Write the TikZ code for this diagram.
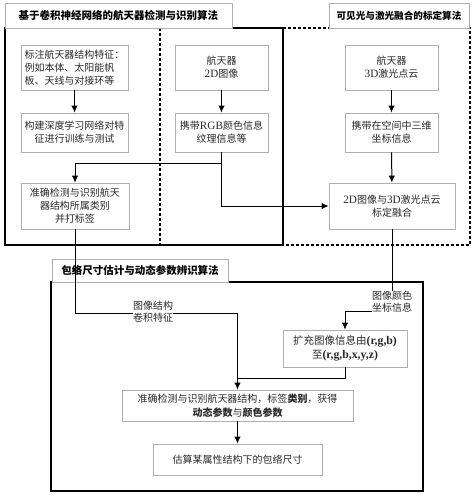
\documentclass[tikz,border=0pt]{standalone}
\usepackage{fontspec}
\setmainfont{Noto Sans CJK SC}
\newfontfamily\lat[Scale=1.12]{Liberation Serif}
\usetikzlibrary{arrows.meta}
\definecolor{boxgray}{RGB}{175,175,175}
\definecolor{txt}{RGB}{40,40,40}
\tikzset{
  box/.style={draw=boxgray, line width=0.8pt, align=center, inner sep=1pt, text=txt,
    font=\fontsize{10}{13}\selectfont},
  ttl/.style={draw=boxgray, line width=0.8pt, fill=white, inner sep=0pt, text=black,
    font=\fontsize{10.5}{13}\selectfont\bfseries},
  frame/.style={line width=1.7pt, draw=black},
  dframe/.style={line width=1.4pt, draw=black, dash pattern=on 3pt off 2pt},
  arr/.style={line width=1pt, -{Latex[length=7pt,width=6.5pt]}},
  ln/.style={line width=1pt},
  lbl/.style={fill=white, align=center, inner sep=0pt, text=txt, font=\fontsize{10}{12}\selectfont},
}
\begin{document}
\begin{tikzpicture}[x=1pt,y=-1pt]
\useasboundingbox (0,0) rectangle (474,496);
% frames
\draw[frame] (5,28) rectangle (283,245);
\draw[dframe] (160,28) -- (160,245);
\draw[dframe] (283,28) -- (470,28) -- (470,245) -- (283,245);
\draw[frame] (51,282) rectangle (423,491);
% titles
\node[ttl, minimum width=227pt, minimum height=25pt] (t1) at (118.5,15.5) {基于卷积神经网络的航天器检测与识别算法};
\node[ttl, minimum width=140pt, minimum height=25pt, font=\fontsize{9.6}{12}\selectfont\bfseries] (t2) at (399,15.5) {可见光与激光融合的标定算法};
\node[ttl, minimum width=176pt, minimum height=23pt] (t3) at (140,270.5) {包络尺寸估计与动态参数辨识算法};
% column 1
\node[box, minimum width=107pt, minimum height=45pt, align=left] (n1) at (74.5,67.5) {标注航天器结构特征：\\例如本体、太阳能帆\\板、天线与对接环等};
\node[box, minimum width=107pt, minimum height=39pt] (n2) at (74.5,132.5) {构建深度学习网络对特\\征进行训练与测试};
\node[box, minimum width=108pt, minimum height=46pt] (n3) at (75,206) {准确检测与识别航天\\器结构所属类别\\并打标签};
% column 2
\node[box, minimum width=93pt, minimum height=45pt] (m1) at (221.5,67.5) {航天器\\{\lat 2D}图像};
\node[box, minimum width=93pt, minimum height=39pt] (m2) at (221.5,132.5) {携带{\lat RGB}颜色信息\\纹理信息等};
% column 3
\node[box, minimum width=93pt, minimum height=45pt] (r1) at (391.5,67.5) {航天器\\{\lat 3D}激光点云};
\node[box, minimum width=93pt, minimum height=39pt] (r2) at (391.5,132.5) {携带在空间中三维\\坐标信息};
\node[box, minimum width=126pt, minimum height=46pt] (r3) at (392,206) {{\lat 2D}图像与{\lat 3D}激光点云\\标定融合};
% bottom
\node[box, minimum width=124pt, minimum height=37pt, font=\fontsize{10.5}{14}\selectfont] (b1) at (345,348.5) {扩充图像信息由{\lat\bfseries (r,g,b)}\\至{\lat\bfseries (r,g,b,x,y,z)}};
\node[box, minimum width=231pt, minimum height=31pt, font=\fontsize{10}{14}\selectfont] (b2) at (237.5,405.5) {准确检测与识别航天器结构，标签\textbf{类别}，获得\\\textbf{动态参数}与\textbf{颜色参数}};
\node[box, minimum width=169pt, minimum height=31pt] (b3) at (237.5,459.5) {估算某属性结构下的包络尺寸};
% connectors
\draw[arr] (n1) -- (n2);
\draw[arr] (m1) -- (m2);
\draw[arr] (r1) -- (r2);
\draw[arr] (r2) -- (r3);
\draw[arr] (m2.south) -- ++(0,11) -| (n3.north);
\draw[arr] (m2.south) |- (r3.west);
\draw[arr] (n3.south) |- (237.5,313) -- (b2.north);
\node[lbl] (l1) at (153,312) {图像结构\\卷积特征};
\node[lbl] (l2) at (392,302) {图像颜色\\坐标信息};
\draw[ln] (r3.south) -- (l2.north);
\coordinate (k) at (l2.west |- 0,311);
\draw[arr] (k) -| (b1.north);
\draw[ln] (b1.south) |- (237.5,378);
\draw[arr] (b2) -- (b3);
\end{tikzpicture}
\end{document}
